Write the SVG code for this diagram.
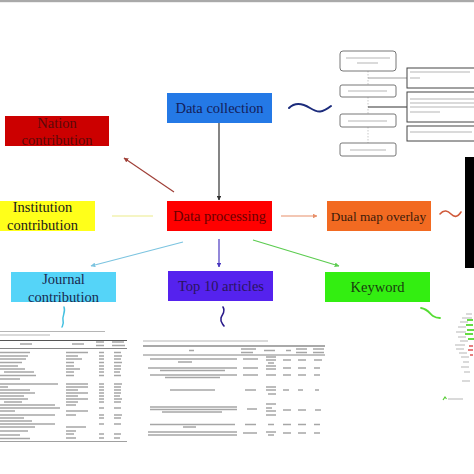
<svg xmlns="http://www.w3.org/2000/svg" width="474" height="474" viewBox="0 0 474 474">
<style>
.lbl{font-family:"Liberation Serif","Times New Roman",serif;font-size:14.5px;text-anchor:middle}
.conn{fill:none;stroke-width:1.2}
.sq{fill:none;stroke-linecap:round}
.bar{fill:none;stroke:#a6a6a6;stroke-width:1.5}
.bar2{fill:none;stroke:#b5b5b5;stroke-width:1.2}
.rule{fill:none;stroke:#555;stroke-width:1.2}
.fbox{fill:#fff;stroke:#666;stroke-width:0.9}
</style>
<defs>
<marker id="aBlack" viewBox="0 0 10 10" refX="9" refY="5" markerWidth="4" markerHeight="4" orient="auto"><path d="M0,0L10,5L0,10z" fill="#333"/></marker>
<marker id="aBrown" viewBox="0 0 10 10" refX="9" refY="5" markerWidth="4" markerHeight="4" orient="auto"><path d="M0,0L10,5L0,10z" fill="#a04038"/></marker>
<marker id="aOrange" viewBox="0 0 10 10" refX="9" refY="5" markerWidth="4" markerHeight="4" orient="auto"><path d="M0,0L10,5L0,10z" fill="#e8906a"/></marker>
<marker id="aBlue" viewBox="0 0 10 10" refX="9" refY="5" markerWidth="4" markerHeight="4" orient="auto"><path d="M0,0L10,5L0,10z" fill="#7cc4e0"/></marker>
<marker id="aPurple" viewBox="0 0 10 10" refX="9" refY="5" markerWidth="4" markerHeight="4" orient="auto"><path d="M0,0L10,5L0,10z" fill="#4a38c0"/></marker>
<marker id="aGreen" viewBox="0 0 10 10" refX="9" refY="5" markerWidth="4" markerHeight="4" orient="auto"><path d="M0,0L10,5L0,10z" fill="#5ccc50"/></marker>
</defs>
<rect width="474" height="474" fill="#fff"/>
<rect x="0" y="0" width="474" height="2.2" fill="#a9a9a9"/>

<g id="connectors">
<path class="conn" d="M219,123V200" stroke="#333" marker-end="url(#aBlack)"/>
<path class="conn" d="M174,192L124,158" stroke="#a04038" marker-end="url(#aBrown)"/>
<path class="conn" d="M153,216H112" stroke="#ecec8a"/>
<path class="conn" d="M281,216H317" stroke="#e8906a" marker-end="url(#aOrange)"/>
<path class="conn" d="M183,242L91,266" stroke="#7cc4e0" marker-end="url(#aBlue)"/>
<path class="conn" d="M219,239V267" stroke="#4a38c0" marker-end="url(#aPurple)"/>
<path class="conn" d="M253,240L339,266" stroke="#5ccc50" marker-end="url(#aGreen)"/>
</g>

<g id="squiggles">
<path class="sq" d="M289,108C295,102 302,103 310,108S322,113 331,106" stroke="#1c2c7c" stroke-width="2"/>
<path class="sq" d="M440,214C444,209 448,211 451,214S457,218 461,212" stroke="#d05a3a" stroke-width="1.6"/>
<path class="sq" d="M64,307C66,312 62,316 63,320S63,325 62,327" stroke="#44c0e0" stroke-width="1.5"/>
<path class="sq" d="M223,307C226,312 222,314 221,318S222,323 224,326" stroke="#2a1a8a" stroke-width="1.6"/>
<path class="sq" d="M421,308C428,309 430,314 433,316S437,318 440,318" stroke="#55dd33" stroke-width="1.8"/>
</g>

<g id="data-collection"><rect x="167" y="93" width="105" height="30" fill="#2479e6"/><text class="lbl" x="219.5" y="113" fill="#14205a">Data collection</text></g>
<g id="nation-contribution"><rect x="5" y="116" width="104" height="30" fill="#cc0000"/><text class="lbl" x="57" y="128" fill="#5a0a0a">Nation</text><text class="lbl" x="57" y="145" fill="#5a0a0a">contribution</text></g>
<g id="data-processing"><rect x="167" y="201" width="105" height="30" fill="#ff0000"/><text class="lbl" x="219.5" y="221" fill="#6a0000">Data processing</text></g>
<g id="institution-contribution"><rect x="0" y="201" width="95" height="30" fill="#ffff1a"/><text class="lbl" x="42.5" y="212" fill="#1a1a1a">Institution</text><text class="lbl" x="42.5" y="230" fill="#1a1a1a">contribution</text></g>
<g id="dual-map-overlay"><rect x="327" y="201" width="104" height="30" fill="#f26a21"/><text class="lbl" x="378.5" y="221" fill="#3a1a0a" style="font-size:13.3px">Dual map overlay</text></g>
<g id="journal-contribution"><rect x="11" y="272" width="105" height="30" fill="#55d4f8"/><text class="lbl" x="63.5" y="284" fill="#1a2a50">Journal</text><text class="lbl" x="63.5" y="302" fill="#1a2a50">contribution</text></g>
<g id="top-10-articles"><rect x="168" y="271" width="105" height="30" fill="#5522ee"/><text class="lbl" x="221" y="291" fill="#2a1460">Top 10 articles</text></g>
<g id="keyword"><rect x="325" y="272" width="105" height="30" fill="#33ee11"/><text class="lbl" x="377.5" y="291.5" fill="#1a3a10">Keyword</text></g>

<g id="flowchart-thumb">
<path d="M368,71V85M368,97V114M368,127V143" stroke="#bbb" stroke-width="0.8" stroke-dasharray="1.5,1.5"/>
<path d="M368,78H407" stroke="#888" stroke-width="0.8"/>
<path d="M368,107H407" stroke="#333" stroke-width="1.2"/>
<rect class="fbox" x="340" y="51" width="56" height="20" rx="3"/>
<rect class="fbox" x="340" y="85" width="56" height="12" rx="2"/>
<rect class="fbox" x="340" y="114" width="56" height="13" rx="2"/>
<rect class="fbox" x="340" y="143" width="56" height="13" rx="2"/>
<rect x="407" y="68" width="70" height="20" fill="#fff" stroke="#444" stroke-width="1"/>
<rect x="407" y="92" width="70" height="30" fill="#fff" stroke="#444" stroke-width="1"/>
<rect x="407" y="126" width="70" height="15" fill="#fff" stroke="#444" stroke-width="1"/>
<path class="bar2" d="M346,58h44M357,63h21M348,91h39M348,121h39M350,150h36M410,72h60M410,78h10M410,99h64M410,103h64M410,107h64M410,112h30M410,132h62"/>
</g>

<rect id="map-thumb" x="465" y="157" width="9" height="111" fill="#000"/>

<g id="journal-table-thumb">
<path class="bar2" d="M0,331.5h105M0,335h50"/>
<path class="rule" d="M0,340.5H127"/>
<path class="bar" d="M20,344h12M72,344h12M96,342h8M96,345.5h8M112,342h12M112,345.5h13"/>
<path d="M0,348.5H127" stroke="#666" stroke-width="0.8"/>
<path class="bar" d="M0,352.5h30M0,356h28M0,359h26M0,362.5h22M0,366h18M0,369h25M4,372h30M0,375.5h36M0,379h20M0,384h58M0,387h8M0,390h30M0,393h35M0,396h24M0,399h28M4,402h18M0,405h55M0,408h60M0,411h15M0,415h55M0,418h24M0,421h32M0,424h55M0,427h35M0,431h28M0,435h20M0,438.5h30"/>
<path class="bar" d="M66,352.5h22M66,356h12M66,359h16M66,362.5h8M66,366h8M66,369h14M66,372h8M66,375.5h8M66,384h22M66,387h22M66,390h12M66,393h22M66,396h12M66,399h22M66,402h12M66,405h10M66,411h22M66,415h10M66,427h20M66,431h10M66,434h8M66,438h10"/>
<path class="bar" d="M99,352.5h5M99,356h5M99,359h5M99,362.5h5M99,366h5M99,369h5M99,372h5M99,375.5h5M99,384h5M99,387h5M99,390h5M99,393h5M99,396h5M99,399h5M99,402h5M99,408h5M99,415h5M99,418h5M99,424h5M99,434h5M99,438h5"/>
<path class="bar" d="M114,352.5h7M114,356h8M114,359h7M114,362.5h8M114,366h7M114,369h7M114,372h6M114,375.5h7M114,384h8M114,387h7M114,390h7M114,393h7M114,396h6M114,399h8M114,402h7M114,408h7M114,415h8M114,418h7M114,424h7M114,434h7M114,438h6"/>
<path d="M0,441.5H127" stroke="#888" stroke-width="0.8"/>
</g>

<g id="articles-table-thumb">
<path class="bar2" d="M143,341h125"/>
<path class="rule" d="M143,346H325"/>
<path class="bar" d="M189,350.5h5M241,349h15M241,352.5h12M264,350.5h11M286,350.5h5M296,349h11M296,352.5h11M313,349h11M313,352.5h11"/>
<path d="M143,355H325" stroke="#666" stroke-width="0.8"/>
<path class="bar" d="M150,359h87M178,362h14M148,368h89M160,370.5h65M150,375h87M165,377.5h55M170,390h45M150,407h87M150,409.5h87M162,412h60M150,424.5h85M183,427h13M148,432h89M148,435h89"/>
<path class="bar" d="M243,359h15M243,368h15M243,375h15M245,390h11M247,409h10M245,424.5h11M243,433h14"/>
<path class="bar" d="M266,357h10M266,360h10M268,363h6M266,366h10M266,369h10M266,375h10M266,387h10M266,390h10M268,394h8M266,404h10M266,408h6M266,411h10M266,415h10M268,424.5h6M266,432h10M268,435h6"/>
<path class="bar" d="M283,360h8M283,368h8M283,375h8M283,390h6M283,410h8M283,424.5h8M283,433h8"/>
<path class="bar" d="M298,360h8M298,368h8M298,375h8M298,390h5M298,410h8M298,424.5h8M298,433h8"/>
<path class="bar" d="M314,360h8M314,368h6M314,375h6M315,390h4M315,410h6M314,424.5h6M314,433h6"/>
</g>

<g id="keyword-thumb">
<path class="bar2" d="M466,314h6M462,318h10M460,322h8M458,327h8M456,332h10M458,337h8M460,341h8M455,345h10M456,349h8M459,353h8M461,357h8M463,362h6M461,367h8M464,372h6M462,381h8M448,399h15"/>
<path d="M467,320h6M466,325h7M467,330h7M465,334h8M468,339h6" stroke="#66dd44" stroke-width="2.2"/>
<path d="M469,346h4M468,350h5M470,355h3" stroke="#dd5555" stroke-width="1.6"/>
<path d="M443,400l2,-3l1.5,2" stroke="#55cc33" stroke-width="1.2" fill="none"/>
</g>
</svg>
